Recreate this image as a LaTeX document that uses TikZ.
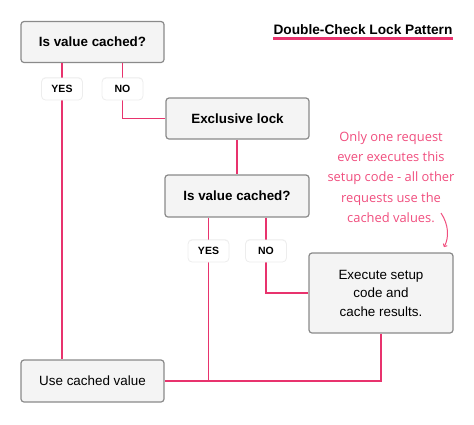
\documentclass[tikz,border=0pt]{standalone}
\usepackage{fontspec}
\setmainfont{Liberation Sans}
\newfontfamily\annfont{Open Sans}
\usetikzlibrary{arrows.meta,shadows}
\definecolor{pinkline}{HTML}{E8336D}
\definecolor{pinktext}{HTML}{F04E7E}
\definecolor{boxfill}{HTML}{F4F4F4}
\definecolor{boxdraw}{HTML}{8A8A8A}
\tikzset{
  box/.style={draw=boxdraw, fill=boxfill, line width=1.2pt, rounded corners=3pt, align=center, font=\fontsize{13.4}{18.5}\selectfont, inner sep=0pt},
  boldbox/.style={box, font=\fontsize{13.4}{16}\selectfont\bfseries},
  tag/.style={draw=black!7, fill=white, line width=0.8pt, rounded corners=4pt, minimum width=41pt, minimum height=22pt, inner sep=0pt, font=\fontsize{10.5}{12}\selectfont\bfseries, drop shadow={shadow xshift=0pt, shadow yshift=1pt, opacity=0.08}},
  link/.style={draw=pinkline, line width=1.5pt},
  annot/.style={text=pinktext, font=\annfont\fontsize{12.9}{20.4}\selectfont, align=center}
}
\begin{document}
\begin{tikzpicture}[x=1pt, y=-1pt]
\useasboundingbox (0,0) rectangle (474,424);
% title
\node[anchor=base, inner sep=0pt, font=\fontsize{13.7}{16}\selectfont\bfseries] (title) at (363,34) {Double-Check Lock Pattern};
\draw[pinkline, line width=3pt] ([yshift=-4.5pt]title.base west) -- ([yshift=-4.5pt]title.base east);
% boxes
\node[boldbox, minimum width=143pt, minimum height=41pt] (q1) at (92.5,42) {Is value cached?};
\node[boldbox, minimum width=143pt, minimum height=41pt] (lock) at (237.5,118.5) {Exclusive lock};
\node[boldbox, minimum width=144pt, minimum height=42pt] (q2) at (237,196) {Is value cached?};
\node[box, minimum width=144pt, minimum height=80pt] (exec) at (381,293) {Execute setup\\code and\\cache results.};
\node[box, minimum width=143pt, minimum height=42pt] (use) at (92.5,381) {Use cached value};
% label anchors
\coordinate (y1) at (62,89);
\coordinate (n1) at (122.5,89);
\coordinate (y2) at (208.5,251);
\coordinate (n2) at (266,251);
% connectors
\draw[link] (q1.south -| y1) -- (use.north -| y1);
\draw[link] (q1.south -| n1) |- (lock.west);
\draw[link] (lock.south -| q2.north) -- (q2.north);
\draw[link] (q2.south -| n2) |- (exec.west);
\draw[link] (q2.south -| y2) -- (y2 |- use.east);
\draw[link] (exec.south) |- (use.east);
% tags
\node[tag] (yes1) at (y1) {YES};
\node[tag] (no1) at (n1) {NO};
\node[tag] (yes2) at (y2) {YES};
\node[tag] (no2) at (n2) {NO};
% annotation
\node[annot] (note) at (391,177) {Only one request\\ever executes this\\setup code - all other\\requests use the\\cached values.};
\coordinate (arrs) at (441,213);
\coordinate (arre) at (444,247);
\draw[pinktext, line width=1pt, -{To[length=3pt, width=5pt]}] (arrs) .. controls (449,225) and (449,238) .. (arre);
\end{tikzpicture}
\end{document}
